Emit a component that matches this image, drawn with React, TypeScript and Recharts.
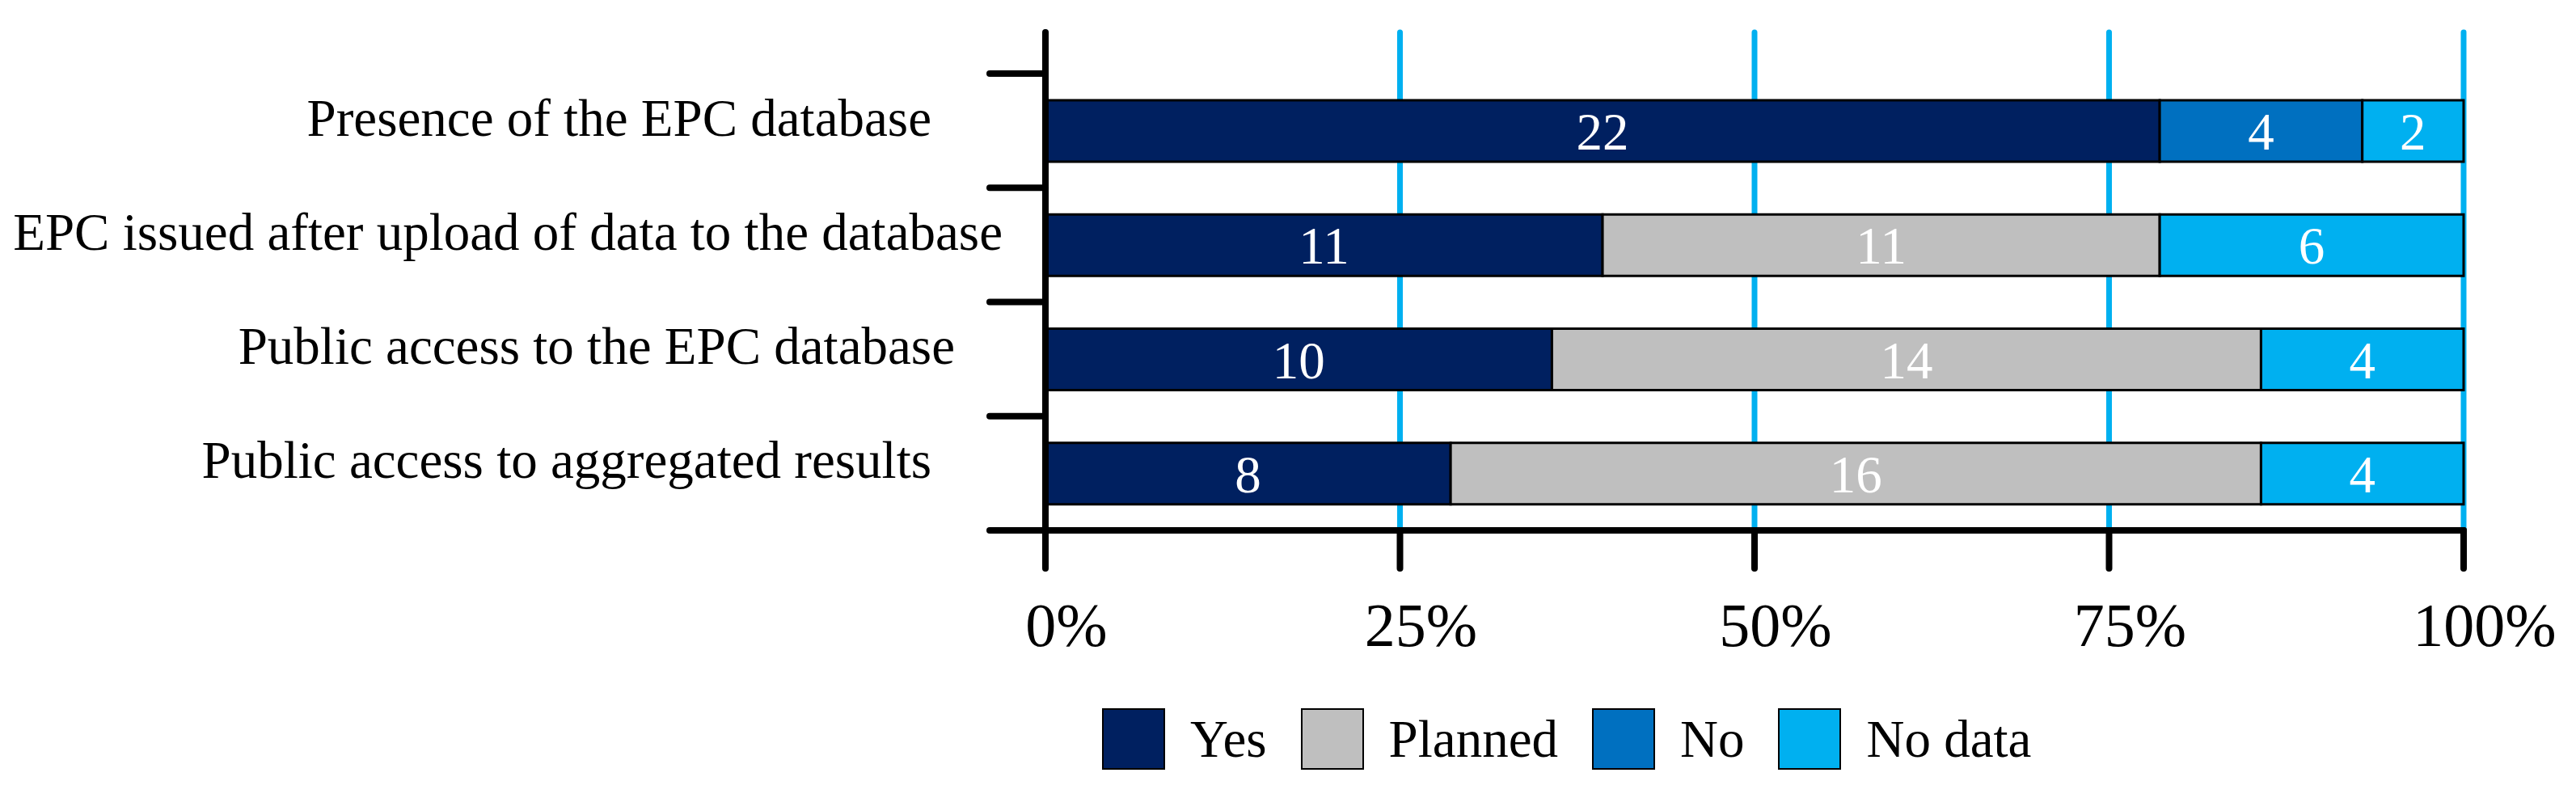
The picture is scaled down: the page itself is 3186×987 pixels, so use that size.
import React from "react";
import {
  BarChart,
  Bar,
  XAxis,
  YAxis,
  CartesianGrid,
  Legend,
  LabelList,
} from "recharts";

const CATEGORIES = [
  "Presence of the EPC database",
  "EPC issued after upload of data to the database",
  "Public access to the EPC database",
  "Public access to aggregated results",
];
const SERIES = ["Yes", "Planned", "No", "No data"];
const YES = [22, 11, 10, 8];
const PLANNED = [0, 11, 14, 16];
const NO = [4, 0, 0, 0];
const NO_DATA = [2, 6, 4, 4];
const X_TICKS = [0, 0.25, 0.5, 0.75, 1];

const FONT = '"Liberation Serif", "Times New Roman", serif';
const TICK_LEN = 69;
// distance from the axis to the right edge of each category label
const LABEL_INSET = [141, 53, 112, 141];

const data = CATEGORIES.map((name, i) => ({
  name,
  yes: YES[i],
  planned: PLANNED[i],
  no: NO[i],
  noData: NO_DATA[i],
}));

function CategoryTick(props: any) {
  const { x, y, payload, index, visibleTicksCount } = props;
  const half = payload.offset ?? 70.6;
  const axisX = x + TICK_LEN;
  return (
    <g>
      <line
        x1={x}
        x2={axisX}
        y1={y - half}
        y2={y - half}
        stroke="#000"
        strokeWidth={8}
        strokeLinecap="round"
      />
      {index === visibleTicksCount - 1 && (
        <line
          x1={x}
          x2={axisX}
          y1={y + half}
          y2={y + half}
          stroke="#000"
          strokeWidth={8}
          strokeLinecap="round"
        />
      )}
      <text
        x={axisX - LABEL_INSET[index]}
        y={y}
        dy={6}
        textAnchor="end"
        fontSize={65}
        fontFamily={FONT}
        fill="#000"
      >
        {payload.value}
      </text>
    </g>
  );
}

function LegendContent({ payload }: any) {
  const items = [...(payload || [])].sort(
    (a: any, b: any) => SERIES.indexOf(a.value) - SERIES.indexOf(b.value)
  );
  return (
    <div
      style={{
        height: 100,
        display: "flex",
        alignItems: "center",
        paddingLeft: 1363,
        fontFamily: FONT,
        fontSize: 65,
      }}
    >
      {items.map((item: any) => (
        <div
          key={item.value}
          style={{ display: "flex", alignItems: "center", marginRight: 42 }}
        >
          <div
            style={{
              width: 78,
              height: 76,
              boxSizing: "border-box",
              background: item.color,
              border: "2px solid #000",
              marginRight: 31,
            }}
          />
          <span style={{ color: "#000", lineHeight: 1 }}>{item.value}</span>
        </div>
      ))}
    </div>
  );
}

const hideZero = (v: any) => (v ? v : "");

export default function App() {
  const labelStyle = { fill: "#fff", fontSize: 65, fontFamily: FONT };
  return (
    <div
      style={{
        position: "absolute",
        left: 0,
        top: 0,
        width: 3186,
        height: 987,
        background: "#fff",
      }}
    >
      <BarChart
        width={3186}
        height={987}
        data={data}
        layout="vertical"
        stackOffset="expand"
        margin={{ top: 40, right: 139, left: 0, bottom: 23 }}
      >
        <CartesianGrid
          horizontal={false}
          stroke="#00B0F0"
          strokeWidth={7}
          strokeLinecap="round"
        />
        <XAxis
          type="number"
          domain={[0, 1]}
          ticks={X_TICKS}
          height={208}
          tickFormatter={(v: number) => `${Math.round(v * 100)}%`}
          axisLine={{ stroke: "#000", strokeWidth: 8, strokeLinecap: "round" }}
          tickLine={{ stroke: "#000", strokeWidth: 8, strokeLinecap: "round" }}
          tickSize={47}
          tickMargin={42}
          tick={{ fill: "#000", fontSize: 76, fontFamily: FONT, dx: 26 }}
        />
        <YAxis
          type="category"
          dataKey="name"
          width={1293}
          padding={{ top: 51, bottom: 0 }}
          axisLine={{ stroke: "#000", strokeWidth: 8, strokeLinecap: "round" }}
          tickLine={false}
          tickSize={TICK_LEN}
          tickMargin={0}
          tick={<CategoryTick />}
          interval={0}
        />
        <Legend
          verticalAlign="bottom"
          content={<LegendContent />}
          wrapperStyle={{ left: 0, width: 3186 }}
        />
        <Bar
          dataKey="yes"
          name={SERIES[0]}
          stackId="a"
          fill="#002060"
          stroke="#000"
          strokeWidth={3}
          barSize={76}
          isAnimationActive={false}
        >
          <LabelList dataKey="yes" position="center" formatter={hideZero} style={labelStyle} />
        </Bar>
        <Bar
          dataKey="planned"
          name={SERIES[1]}
          stackId="a"
          fill="#BFBFBF"
          stroke="#000"
          strokeWidth={3}
          barSize={76}
          isAnimationActive={false}
        >
          <LabelList dataKey="planned" position="center" formatter={hideZero} style={labelStyle} />
        </Bar>
        <Bar
          dataKey="no"
          name={SERIES[2]}
          stackId="a"
          fill="#0070C0"
          stroke="#000"
          strokeWidth={3}
          barSize={76}
          isAnimationActive={false}
        >
          <LabelList dataKey="no" position="center" formatter={hideZero} style={labelStyle} />
        </Bar>
        <Bar
          dataKey="noData"
          name={SERIES[3]}
          stackId="a"
          fill="#00B0F0"
          stroke="#000"
          strokeWidth={3}
          barSize={76}
          isAnimationActive={false}
        >
          <LabelList dataKey="noData" position="center" formatter={hideZero} style={labelStyle} />
        </Bar>
      </BarChart>
    </div>
  );
}
